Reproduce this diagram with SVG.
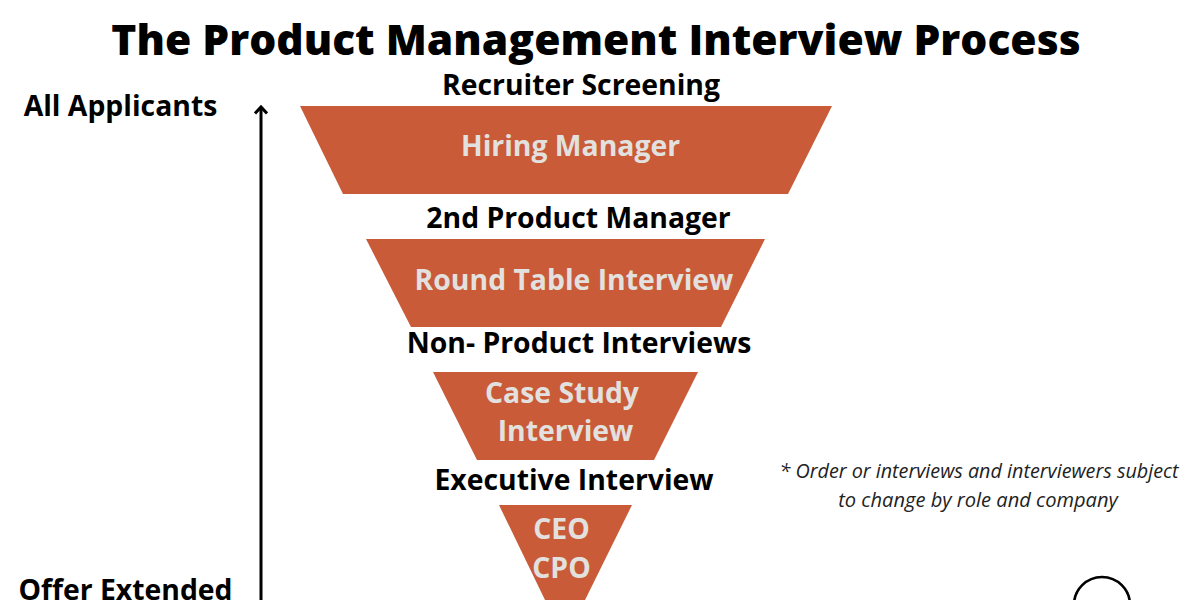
<svg xmlns="http://www.w3.org/2000/svg" width="1200" height="600" viewBox="0 0 1200 600">
<style>
text{font-family:"Open Sans","Noto Sans","DejaVu Sans",sans-serif;text-anchor:middle}
.t{font-weight:700;font-size:28.35px;fill:#000}
.w{font-weight:700;font-size:28.35px;fill:#e3e1df}
.n{font-style:italic;font-size:19.75px;fill:#222}
.f{fill:#c95b39}
</style>
<defs><marker id="a" markerUnits="userSpaceOnUse" markerWidth="18" markerHeight="14" refX="13" refY="7" orient="auto"><path d="M6.5 1L13 7L6.5 13" fill="none" stroke="#000" stroke-width="3"/></marker></defs>
<rect width="1200" height="600" fill="#fff"/>
<text x="596" y="55" font-size="42.55" font-weight="800">The Product Management Interview Process</text>
<text class="t" x="120.5" y="116">All Applicants</text>
<text class="t" x="125.5" y="600">Offer Extended</text>
<g id="connectors"><line x1="261" y1="600" x2="261" y2="107" stroke="#000" stroke-width="3" marker-end="url(#a)"/></g>
<g id="recruiter"><text class="t" x="581" y="95">Recruiter Screening</text></g>
<g id="hiring"><polygon class="f" points="300,106 832,106 788,194 343,194"/><text class="w" x="570.5" y="156">Hiring Manager</text></g>
<g id="pm2"><text class="t" x="578.5" y="228">2nd Product Manager</text></g>
<g id="round"><polygon class="f" points="366,239 765,239 721,327 411,327"/><text class="w" x="574" y="290">Round Table Interview</text></g>
<g id="nonproduct"><text class="t" x="579" y="353">Non- Product Interviews</text></g>
<g id="case"><polygon class="f" points="433,372 698,372 654,460 477,460"/><text class="w" x="562" y="403">Case Study</text><text class="w" x="565.5" y="441">Interview</text></g>
<g id="exec"><text class="t" x="574" y="490">Executive Interview</text></g>
<g id="ceo"><polygon class="f" points="499,505 632,505 585,600 545,600"/><text class="w" x="561.5" y="539">CEO</text><text class="w" x="561.5" y="578">CPO</text></g>
<g id="note"><text class="n" x="979" y="478">* Order or interviews and interviewers subject</text><text class="n" x="978" y="507" style="font-size:20.1px">to change by role and company</text></g>
<circle cx="1102" cy="605" r="28" fill="none" stroke="#000" stroke-width="2.6"/>
</svg>
